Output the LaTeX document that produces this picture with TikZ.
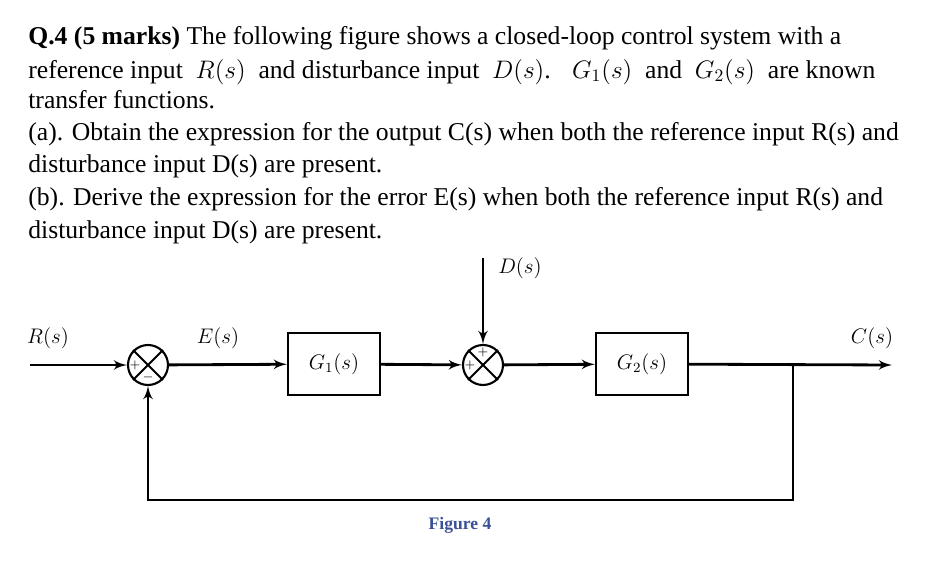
\documentclass[tikz,border=0pt]{standalone}
\usepackage{amsmath}
\usepackage{fontspec}
\setmainfont{Liberation Serif}
\usetikzlibrary{arrows}
\definecolor{figblue}{RGB}{60,80,150}
\begin{document}
\begin{tikzpicture}[x=0.02cm,y=-0.02cm]
	\tikzset{txt/.style={anchor=base west, inner sep=0pt, font=\fontsize{14.6}{18}\selectfont}}
	\tikzset{block/.style={draw, line width=1.2pt, minimum width=1.84cm, minimum height=1.24cm, font=\large}}
	\tikzset{sum/.style={draw, circle, line width=1.2pt, minimum size=0.8cm, inner sep=0pt}}
	\tikzset{sig/.style={->, > = latex', line width=1.6pt}}
	\tikzset{lbl/.style={font=\large}}
	\tikzset{sgn/.style={font=\scriptsize, inner sep=0pt}}
	\useasboundingbox (0,0) rectangle (941,568);
	%question text
	\node[txt] (l1) at (28,45) {\textbf{Q.4 (5 marks)} The following figure shows a closed-loop control system with a};
	\node[txt] (l2) at (28,78) {reference input \ $R(s)$ \ and disturbance input \ $D(s)$. \ \ $G_1(s)$ \ and \ $G_2(s)$ \ are known};
	\node[txt] (l3) at (28,108) {transfer functions.};
	\node[txt] (l4) at (28,140) {(a). Obtain the expression for the output C(s) when both the reference input R(s) and};
	\node[txt] (l5) at (28,172) {disturbance input D(s) are present.};
	\node[txt] (l6) at (28,205) {(b). Derive the expression for the error E(s) when both the reference input R(s) and};
	\node[txt] (l7) at (28,238) {disturbance input D(s) are present.};
	%blocks
	\coordinate (in) at (30,365);
	\node[sum] (s1) at (148,365) {};
	\node[block] (g1) at (334,364) {$G_1(s)$};
	\node[sum] (s2) at (483,365) {};
	\node[block] (g2) at (642,364) {$G_2(s)$};
	\coordinate (d) at (483,258);
	\coordinate (out) at (892,365);
	\coordinate (br) at (793,365);
	\coordinate (fb1) at (793,500);
	\coordinate (fb2) at (148,500);
	%crosses
	\foreach \s in {s1,s2}{
		\draw[line width=1.2pt] (\s.45) -- (\s.225);
		\draw[line width=1.2pt] (\s.135) -- (\s.315);
	}
	\node[sgn] at (135,365) {$+$};
	\node[sgn] at (148,377) {$-$};
	\node[sgn] at (483,352) {$+$};
	\node[sgn] at (470,365) {$+$};
	%edges
	\draw[sig] (in) -- (s1);
	\draw[sig] (s1) -- (g1);
	\draw[sig] (g1) -- (s2);
	\draw[sig] (d) -- (s2);
	\draw[sig] (s2) -- (g2);
	\draw[sig] (g2) -- (out);
	\draw[sig] (br) -- (fb1) -- (fb2) -- (s1);
	%labels
	\node[lbl] at (48,338) {$R(s)$};
	\node[lbl] at (218,338) {$E(s)$};
	\node[lbl] at (520,268) {$D(s)$};
	\node[lbl] at (872,338) {$C(s)$};
	\node[font=\bfseries, text=figblue] at (460,525) {Figure 4};
\end{tikzpicture}
\end{document}
